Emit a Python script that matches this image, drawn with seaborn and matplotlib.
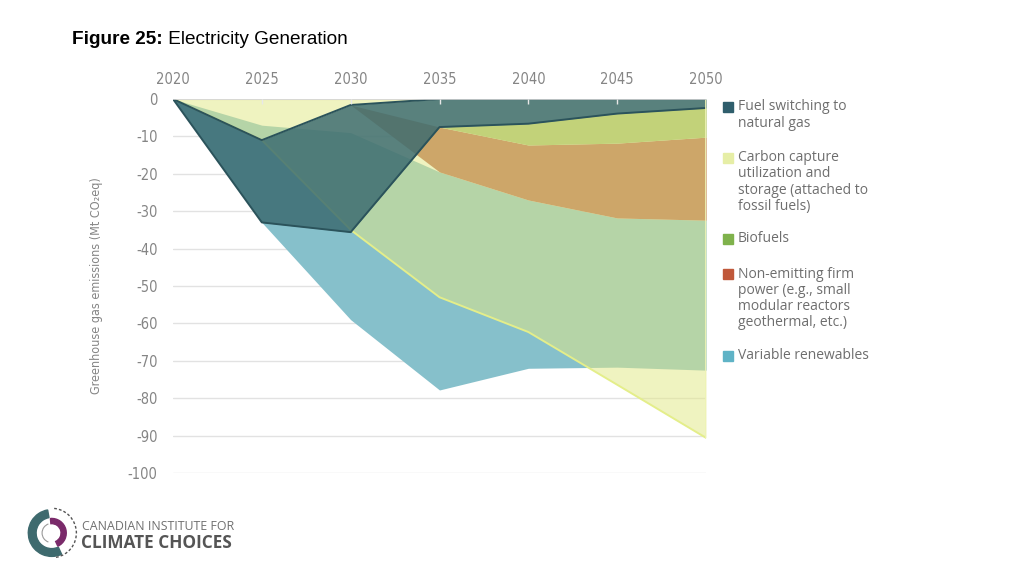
import numpy as np
import pandas as pd
import matplotlib.pyplot as plt
import seaborn as sns
from matplotlib.patches import Wedge, Arc
from matplotlib.lines import Line2D

# Values (Mt CO2eq, negative = reduction)
years = [2020, 2025, 2030, 2035, 2040, 2045, 2050]

# fuel switching is drawn as a band between two edges
fuel_top = [0, -11, -1.6, 0, 0, 0, 0]
fuel_bottom = [0, -33, -35.6, -7.5, -6.6, -3.9, -2.4]

# carbon capture, filled from zero
ccus = [0, -11, -35, -53, -62.3, -76.4, -90.6]

bio_top = [np.nan, np.nan, np.nan, -7.5, -6.6, -3.9, -2.4]
bio_bottom = [np.nan, np.nan, np.nan, -7.5, -12.3, -11.8, -10.2]

firm_top = [np.nan, np.nan, -1.6, -7.5, -12.3, -11.8, -10.2]
firm_bottom = [np.nan, np.nan, -1.6, -19.5, -27, -31.8, -32.4]

renew_top = [0, -7, -9, -19.5, -27, -31.8, -32.4]
renew_bottom = [0, -33, -59, -77.8, -72, -71.7, -72.5]

legend_labels = [
    "Fuel switching to\nnatural gas",
    "Carbon capture\nutilization and\nstorage (attached to\nfossil fuels)",
    "Biofuels",
    "Non-emitting firm\npower (e.g., small\nmodular reactors\ngeothermal, etc.)",
    "Variable renewables",
]
legend_colors = ["#2f5e6c", "#e6eea6", "#7fb24c", "#c0583a", "#5fb3c6"]

sns.set_theme(style="white")
plt.rcParams["axes.unicode_minus"] = False
narrow = dict(family=["DejaVu Sans"], stretch="condensed")
grey = "#858585"

fig = plt.figure(figsize=(10.24, 5.76), dpi=100)
ax = fig.add_axes([173 / 1024, 1 - 473 / 576, 533 / 1024, 374 / 576])

# areas, back to front
ax.fill_between(years, renew_top, renew_bottom, color="#86c0cb", lw=0, zorder=2)
ax.fill_between(years, firm_top, firm_bottom, color="#b8604a", lw=0, zorder=2)
ax.fill_between(years, bio_top, bio_bottom, color="#a0bb6c", lw=0, zorder=2)
ax.fill_between(years, 0, ccus, color="#e2e886", alpha=0.52, lw=0, zorder=3)
ax.fill_between(years, fuel_top, fuel_bottom, color="#3a6a70", alpha=0.83, lw=0, zorder=4)

# outlines
ccus_edge = pd.DataFrame({"year": years, "value": ccus})
sns.lineplot(data=ccus_edge, x="year", y="value", color="#e4ee8a", linewidth=1.4, ax=ax,
             zorder=3.5)
fuel_edges = pd.DataFrame({
    "year": years * 2,
    "value": fuel_top + fuel_bottom,
    "edge": ["top"] * 7 + ["bottom"] * 7,
})
sns.lineplot(data=fuel_edges, x="year", y="value", units="edge", estimator=None,
             color="#2b535b", linewidth=1.4, ax=ax, zorder=5)
ax.vlines(years[-1], ccus[-1], 0, color="#eef3b4", lw=2, zorder=5)

ax.axhline(0, color="#d6d6d6", lw=1.2, zorder=6)
ax.vlines(years[1:-1], -1.3, 0, color="#e8e8e8", lw=1, zorder=6)

ax.set_xlim(2020, 2050)
ax.set_ylim(-100, 0)
ax.set_xticks(years)
ax.set_yticks(range(-100, 1, 10))
ax.xaxis.tick_top()
ax.tick_params(length=0, labelcolor=grey, labelsize=10.5)
ax.tick_params(axis="y", pad=11)
ax.tick_params(axis="x", pad=9)
for lab in ax.get_xticklabels() + ax.get_yticklabels():
    lab.set_family(narrow["family"])
    lab.set_stretch(narrow["stretch"])
ax.grid(axis="y", color="#e2e2e2", lw=1)
ax.grid(axis="x", visible=False)
ax.set_axisbelow(True)
sns.despine(ax=ax, left=True, bottom=True, top=True, right=True)
ax.set_xlabel("")
ax.set_ylabel("Greenhouse gas emissions (Mt CO₂eq)", color=grey, fontsize=9,
              labelpad=18, **narrow)

# legend, swatch aligned with the first line of each entry
y_px = 108
for lab, col in zip(legend_labels, legend_colors):
    fig.add_artist(Line2D([728 / 1024], [1 - (y_px - 1) / 576], marker="s", markersize=6.5,
                          color=col, markeredgecolor=col, transform=fig.transFigure))
    fig.text(738 / 1024, 1 - (y_px - 8.5) / 576, lab, va="top", ha="left",
             fontsize=10, color="#6e6e6e", family=["Open Sans", "DejaVu Sans"],
             linespacing=1.12)
    y_px += lab.count("\n") * 15.5 + 35

# title
t1 = fig.text(72 / 1024, 1 - 40 / 576, "Figure 25:", fontsize=13.7, weight="bold",
              family=["Liberation Sans", "DejaVu Sans"], color="black", va="center")
fig.canvas.draw()
bb = t1.get_window_extent()
fig.text(bb.x1 / fig.bbox.width, 1 - 40 / 576, " Electricity Generation", fontsize=13.7,
         family=["Liberation Sans", "DejaVu Sans"], color="black", va="center")

# logo
lax = fig.add_axes([(51.7 - 26) / 1024, 1 - (533 + 26) / 576, 52 / 1024, 52 / 576])
lax.set_xlim(-1, 1)
lax.set_ylim(-1, 1)
lax.axis("off")
lax.add_patch(Wedge((0, 0), 0.9, 100, 295, width=0.3, color="#3e6a6e"))
lax.add_patch(Wedge((0, 0), 0.56, -65, 95, width=0.2, color="#7a2a6a"))
lax.add_patch(Arc((0, 0), 1.9, 1.9, theta1=-80, theta2=85, color="#555555", lw=1,
                  linestyle=(0, (2, 1.5))))
lax.add_patch(Arc((0, 0), 0.74, 0.74, theta1=110, theta2=250, color="#9a9a9a", lw=0.8))
fig.text(82 / 1024, 1 - 527 / 576, "CANADIAN INSTITUTE FOR", fontsize=8.9, color="#707070",
         family=["Open Sans", "DejaVu Sans"], va="center")
fig.text(81 / 1024, 1 - 543 / 576, "CLIMATE CHOICES", fontsize=12.4, weight="bold",
         color="#555555", family=["Open Sans", "DejaVu Sans"], va="center")

fig.savefig("out.png", dpi=100)
